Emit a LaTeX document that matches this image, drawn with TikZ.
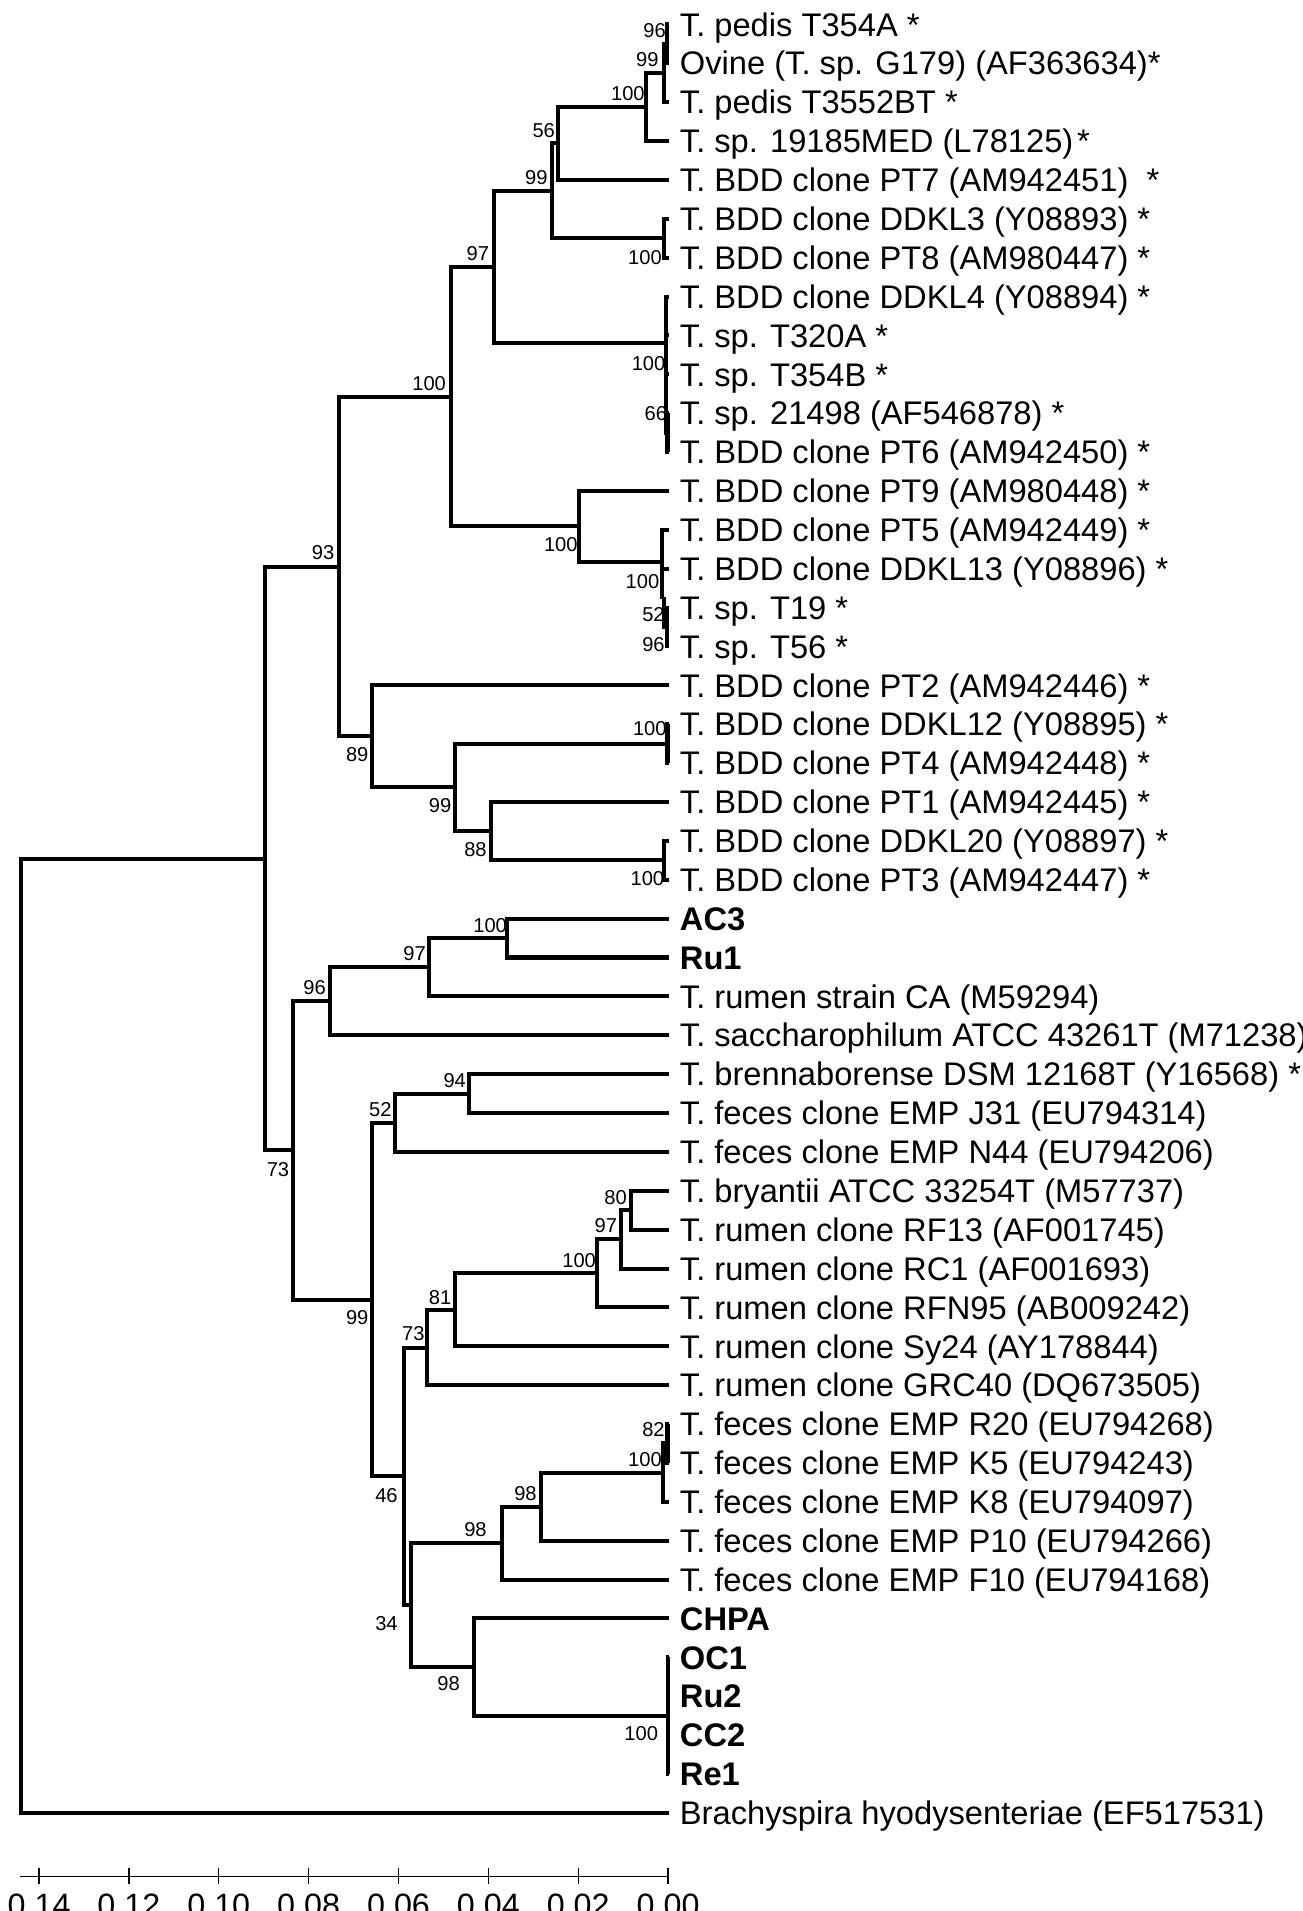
\documentclass[tikz,border=0pt]{standalone}
\usepackage{fontspec}
\setmainfont{Liberation Sans}
\begin{document}
\begin{tikzpicture}[x=1pt,y=-1pt]
\tikzset{
 branch/.style={line width=3.3pt, line join=miter},
 leaf/.style={anchor=base west, inner sep=0pt, xshift=8.5pt, yshift=-9.6pt, font=\fontsize{26.8}{30}\selectfont},
 boldleaf/.style={leaf, font=\fontsize{26.8}{30}\selectfont\bfseries},
 boot/.style={inner sep=0pt, font=\fontsize{16.5}{18}\selectfont},
 scaleline/.style={line width=1.1pt},
 scalelabel/.style={anchor=base, inner sep=0pt, font=\fontsize{26.5}{30}\selectfont},
}
\useasboundingbox (0,0) rectangle (1068,1567.5);
% leaf tips
\foreach \i in {1,...,47} \coordinate (t\i) at (549,{20+31.8913*(\i-1)});
% internal nodes
\coordinate (root) at (17,1095.6);
\coordinate (nI) at (217,704.2);
\coordinate (n93) at (278,464.7);
\coordinate (n100) at (370,325.3);
\coordinate (n97) at (405,218.75);
\coordinate (n99b) at (453,156.5);
\coordinate (n56) at (458,117.67);
\coordinate (n100a) at (530,87.77);
\coordinate (n99a) at (545,59.86);
\coordinate (n96a) at (547,35.95);
\coordinate (n100c) at (545,195.4);
\coordinate (n100d) at (546,281);
\coordinate (n66) at (547.5,354.86);
\coordinate (n100b) at (475,431.85);
\coordinate (n100e) at (543,461);
\coordinate (n52) at (545,490);
\coordinate (n96b) at (547,514.3);
\coordinate (n89) at (305,604);
\coordinate (n99c) at (373,645.9);
\coordinate (n100f) at (547.5,610);
\coordinate (n88) at (403,681.75);
\coordinate (n100g) at (545,705.67);
\coordinate (n73) at (240,943.6);
\coordinate (n96) at (271,821.3);
\coordinate (n97b) at (352,793.4);
\coordinate (n100h) at (416,769.45);
\coordinate (n99d) at (305,1066);
\coordinate (n52b) at (324,920.9);
\coordinate (n94) at (385,897);
\coordinate (n46) at (331,1211);
\coordinate (n73c) at (350,1105.3);
\coordinate (n81) at (373,1074.4);
\coordinate (n100i) at (490,1044.5);
\coordinate (n97c) at (509,1016.6);
\coordinate (n80) at (517.5,992.7);
\coordinate (n34) at (337,1316.6);
\coordinate (n98a) at (412,1265.7);
\coordinate (n98b) at (444,1235.8);
\coordinate (n100j) at (544,1207.9);
\coordinate (n82) at (547.5,1184);
\coordinate (n98c) at (389,1367.4);
\coordinate (n100k) at (548,1407.3);
% branches
\draw[branch]
 (root) |- (nI) (root) |- (t47)
 (nI) |- (n93) (nI) |- (n73)
 (n93) |- (n100) (n93) |- (n89)
 (n100) |- (n97) (n100) |- (n100b)
 (n97) |- (n99b) (n97) |- (n100d)
 (n99b) |- (n56) (n99b) |- (n100c)
 (n56) |- (n100a) (n56) |- (t5)
 (n100a) |- (n99a) (n100a) |- (t4)
 (n99a) |- (n96a) (n99a) |- (t3)
 (n96a) |- (t1) (n96a) |- (t2)
 (n100c) |- (t6) (n100c) |- (t7)
 (n100d) |- (t8) (n100d) |- (t9) (n100d) |- (t10) (n100d) |- (n66)
 (n66) |- (t11) (n66) |- (t12)
 (n100b) |- (t13) (n100b) |- (n100e)
 (n100e) |- (t14) (n100e) |- (t15) (n100e) |- (n52)
 (n52) |- (n96b)
 (n96b) |- (t16) (n96b) |- (t17)
 (n89) |- (t18) (n89) |- (n99c)
 (n99c) |- (n100f) (n99c) |- (n88)
 (n100f) |- (t19) (n100f) |- (t20)
 (n88) |- (t21) (n88) |- (n100g)
 (n100g) |- (t22) (n100g) |- (t23)
 (n73) |- (n96) (n73) |- (n99d)
 (n96) |- (n97b) (n96) |- (t27)
 (n97b) |- (n100h) (n97b) |- (t26)
 (n100h) |- (t24) (n100h) |- (t25)
 (n99d) |- (n52b) (n99d) |- (n46)
 (n52b) |- (n94) (n52b) |- (t30)
 (n94) |- (t28) (n94) |- (t29)
 (n46) |- (n73c) (n46) |- (n34)
 (n73c) |- (n81) (n73c) |- (t36)
 (n81) |- (n100i) (n81) |- (t35)
 (n100i) |- (n97c) (n100i) |- (t34)
 (n97c) |- (n80) (n97c) |- (t33)
 (n80) |- (t31) (n80) |- (t32)
 (n34) |- (n98a) (n34) |- (n98c)
 (n98a) |- (n98b) (n98a) |- (t41)
 (n98b) |- (n100j) (n98b) |- (t40)
 (n100j) |- (n82) (n100j) |- (t39)
 (n82) |- (t37) (n82) |- (t38)
 (n98c) |- (t42) (n98c) |- (n100k)
 (n100k) |- (t43) (n100k) |- (t44) (n100k) |- (t45) (n100k) |- (t46);
% leaf labels
\node[leaf] (l1) at (t1) {T. pedis T354A *};
\node[leaf] (l2) at (t2) {Ovine (T. sp. G179) (AF363634)*};
\node[leaf] (l3) at (t3) {T. pedis T3552BT *};
\node[leaf] (l4) at (t4) {T. sp. 19185MED (L78125)\kern3pt*};
\node[leaf] (l5) at (t5) {T. BDD clone PT7 (AM942451) \ *};
\node[leaf] (l6) at (t6) {T. BDD clone DDKL3 (Y08893) *};
\node[leaf] (l7) at (t7) {T. BDD clone PT8 (AM980447) *};
\node[leaf] (l8) at (t8) {T. BDD clone DDKL4 (Y08894) *};
\node[leaf] (l9) at (t9) {T. sp. T320A *};
\node[leaf] (l10) at (t10) {T. sp. T354B *};
\node[leaf] (l11) at (t11) {T. sp. 21498 (AF546878) *};
\node[leaf] (l12) at (t12) {T. BDD clone PT6 (AM942450) *};
\node[leaf] (l13) at (t13) {T. BDD clone PT9 (AM980448) *};
\node[leaf] (l14) at (t14) {T. BDD clone PT5 (AM942449) *};
\node[leaf] (l15) at (t15) {T. BDD clone DDKL13 (Y08896) *};
\node[leaf] (l16) at (t16) {T. sp. T19 *};
\node[leaf] (l17) at (t17) {T. sp. T56 *};
\node[leaf] (l18) at (t18) {T. BDD clone PT2 (AM942446) *};
\node[leaf] (l19) at (t19) {T. BDD clone DDKL12 (Y08895) *};
\node[leaf] (l20) at (t20) {T. BDD clone PT4 (AM942448) *};
\node[leaf] (l21) at (t21) {T. BDD clone PT1 (AM942445) *};
\node[leaf] (l22) at (t22) {T. BDD clone DDKL20 (Y08897) *};
\node[leaf] (l23) at (t23) {T. BDD clone PT3 (AM942447) *};
\node[boldleaf] (l24) at (t24) {AC3};
\node[boldleaf] (l25) at (t25) {Ru1};
\node[leaf] (l26) at (t26) {T. rumen strain CA (M59294)};
\node[leaf] (l27) at (t27) {T. saccharophilum ATCC 43261T (M71238)};
\node[leaf] (l28) at (t28) {T. brennaborense DSM 12168T (Y16568) *};
\node[leaf] (l29) at (t29) {T. feces clone EMP J31 (EU794314)};
\node[leaf] (l30) at (t30) {T. feces clone EMP N44 (EU794206)};
\node[leaf] (l31) at (t31) {T. bryantii ATCC 33254T (M57737)};
\node[leaf] (l32) at (t32) {T. rumen clone RF13 (AF001745)};
\node[leaf] (l33) at (t33) {T. rumen clone RC1 (AF001693)};
\node[leaf] (l34) at (t34) {T. rumen clone RFN95 (AB009242)};
\node[leaf] (l35) at (t35) {T. rumen clone Sy24 (AY178844)};
\node[leaf] (l36) at (t36) {T. rumen clone GRC40 (DQ673505)};
\node[leaf] (l37) at (t37) {T. feces clone EMP R20 (EU794268)};
\node[leaf] (l38) at (t38) {T. feces clone EMP K5 (EU794243)};
\node[leaf] (l39) at (t39) {T. feces clone EMP K8 (EU794097)};
\node[leaf] (l40) at (t40) {T. feces clone EMP P10 (EU794266)};
\node[leaf] (l41) at (t41) {T. feces clone EMP F10 (EU794168)};
\node[boldleaf] (l42) at (t42) {CHPA};
\node[boldleaf] (l43) at (t43) {OC1};
\node[boldleaf] (l44) at (t44) {Ru2};
\node[boldleaf] (l45) at (t45) {CC2};
\node[boldleaf] (l46) at (t46) {Re1};
\node[leaf] (l47) at (t47) {Brachyspira hyodysenteriae (EF517531)};
% bootstrap values
\foreach \v/\px/\py [count=\k] in {96/537/25, 99/531/49, 100/515/77, 56/446/107, 99/440/146, 97/392/208, 100/352/315, 93/265/453, 100/529/211, 100/532/298, 66/538/339, 100/460/447, 100/527/477, 52/536/504, 96/536/529, 89/293/619, 100/533/598, 99/361/661, 88/390/697, 100/531/721, 100/402/759, 97/340/782, 96/258/810, 73/228/959, 94/373/886, 52/312/910, 80/505/982, 97/497/1005, 100/475/1034, 81/361/1064, 73/339/1094, 99/293/1081, 82/536/1173, 100/529/1197, 98/431/1225, 98/390/1255, 46/317/1227, 34/317/1332, 98/368/1381, 100/526/1422}
  \node[boot] (b\k) at (\px,\py) {\v};
% scale bar
\coordinate (s0) at (16.5,1539);
\coordinate (s1) at (548,1539);
\draw[scaleline] (s0) -- (s1);
\foreach \lab [count=\k from 0] in {0.00,0.02,0.04,0.06,0.08,0.10,0.12,0.14} {
  \coordinate (sk\k) at ({548-73.71*\k},1539);
  \draw[scaleline] ([yshift=7pt]sk\k) -- ([yshift=-6pt]sk\k);
  \node[scalelabel] (sl\k) at ({548-73.71*\k},1572) {\lab};
}
\end{tikzpicture}
\end{document}
